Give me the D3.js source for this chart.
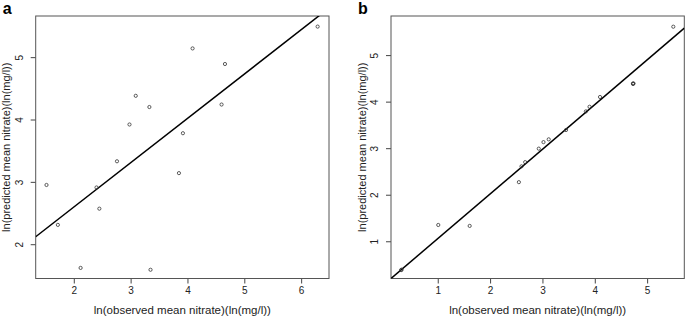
<!DOCTYPE html>
<html>
<head>
<meta charset="utf-8">
<script src="https://cdn.jsdelivr.net/npm/d3@7"></script>
<style>
  body { margin: 0; background: #fff; }
  svg { display: block; font-family: "Liberation Sans", Arial, sans-serif; }
</style>
</head>
<body>
<svg id="chart" width="685" height="316"></svg>
<script>
// panel a: observed vs predicted (ln mg/l)
var obsA = [6.29, 4.09, 4.66, 3.09, 3.33, 4.60, 2.98, 3.92, 2.76, 3.85, 1.52, 2.40, 2.45, 1.72, 2.12, 3.35];
var predA = [5.49, 5.14, 4.89, 4.38, 4.20, 4.24, 3.92, 3.78, 3.33, 3.14, 2.95, 2.91, 2.57, 2.31, 1.62, 1.59];
var fitA = [1.174, 0.711]; // intercept, slope
var xTicksA = [2, 3, 4, 5, 6];
var yTicksA = [2, 3, 4, 5];

// panel b
var obsB = [5.50, 4.73, 4.73, 4.74, 4.10, 3.90, 3.83, 3.45, 3.12, 3.02, 2.93, 2.67, 2.60, 2.55, 1.01, 1.61, 0.30, 0.31];
var predB = [5.61, 4.39, 4.38, 4.39, 4.10, 3.89, 3.79, 3.39, 3.19, 3.13, 2.99, 2.70, 2.61, 2.27, 1.35, 1.33, 0.38, 0.39];
var fitB = [0.097, 0.96];
var xTicksB = [1, 2, 3, 4, 5];
var yTicksB = [1, 2, 3, 4, 5];

var xLabel = "ln(observed mean nitrate)(ln(mg/l))";
var yLabel = "ln(predicted mean nitrate)(ln(mg/l))";

var svg = d3.select("#chart");

function panel(opt) {
  var x = d3.scaleLinear().domain(opt.xDomain).range([opt.left, opt.right]);
  var y = d3.scaleLinear().domain(opt.yDomain).range([opt.bottom, opt.top]);
  var g = svg.append("g");

  g.append("clipPath").attr("id", "clip-" + opt.id)
    .append("rect")
    .attr("x", opt.left).attr("y", opt.top)
    .attr("width", opt.right - opt.left).attr("height", opt.bottom - opt.top);

  // x axis
  var xa = g.append("g")
    .attr("transform", "translate(0," + opt.bottom + ")")
    .call(d3.axisBottom(x).tickValues(opt.xTicks).tickSize(5).tickPadding(3).tickFormat(d3.format("d")));
  xa.select(".domain").remove();
  xa.selectAll("line").attr("stroke", "#444");
  xa.selectAll("text").attr("font-size", 10).attr("fill", "#222")
    .attr("font-family", "Liberation Sans, Arial, sans-serif");

  // y axis, labels turned like base R
  var ya = g.append("g")
    .attr("transform", "translate(" + opt.left + ",0)")
    .call(d3.axisLeft(y).tickValues(opt.yTicks).tickSize(5).tickFormat(d3.format("d")));
  ya.select(".domain").remove();
  ya.selectAll("line").attr("stroke", "#444");
  ya.selectAll("text")
    .attr("x", null).attr("dy", null)
    .attr("text-anchor", "middle")
    .attr("transform", "translate(-13,0) rotate(-90)")
    .attr("font-size", 10).attr("fill", "#222")
    .attr("font-family", "Liberation Sans, Arial, sans-serif");

  // box
  g.append("rect")
    .attr("x", opt.left).attr("y", opt.top)
    .attr("width", opt.right - opt.left).attr("height", opt.bottom - opt.top)
    .attr("fill", "none").attr("stroke", "#555").attr("stroke-width", 1);

  // fit line
  var x0 = opt.xDomain[0], x1 = opt.xDomain[1];
  g.append("line")
    .attr("clip-path", "url(#clip-" + opt.id + ")")
    .attr("x1", x(x0)).attr("y1", y(opt.fit[0] + opt.fit[1] * x0))
    .attr("x2", x(x1)).attr("y2", y(opt.fit[0] + opt.fit[1] * x1))
    .attr("stroke", "#000").attr("stroke-width", 1.5);

  // points
  g.selectAll("circle.pt").data(opt.obs).enter()
    .append("circle")
    .attr("class", "pt")
    .attr("cx", function (d) { return x(d); })
    .attr("cy", function (d, i) { return y(opt.pred[i]); })
    .attr("r", 1.6)
    .attr("fill", "none")
    .attr("stroke", "#333")
    .attr("stroke-width", 0.8);

  // titles
  g.append("text")
    .attr("x", (opt.left + opt.right) / 2).attr("y", 314)
    .attr("text-anchor", "middle").attr("font-size", 11.5).attr("fill", "#222")
    .text(xLabel);
  g.append("text")
    .attr("transform", "translate(" + (opt.left - 25.5) + "," + ((opt.top + opt.bottom) / 2) + ") rotate(-90)")
    .attr("text-anchor", "middle").attr("font-size", 11).attr("fill", "#222")
    .text(yLabel);
  g.append("text")
    .attr("x", opt.left - 33).attr("y", 14)
    .attr("font-size", 16).attr("font-weight", "bold")
    .text(opt.id);
}

panel({
  id: "a", left: 35.7, right: 329, top: 16, bottom: 278.5,
  xDomain: [1.33, 6.49], yDomain: [1.45, 5.66],
  xTicks: xTicksA, yTicks: yTicksA, obs: obsA, pred: predA, fit: fitA
});

panel({
  id: "b", left: 391, right: 684.3, top: 16, bottom: 278.5,
  xDomain: [0.107, 5.71], yDomain: [0.2, 5.84],
  xTicks: xTicksB, yTicks: yTicksB, obs: obsB, pred: predB, fit: fitB
});
</script>
</body>
</html>
